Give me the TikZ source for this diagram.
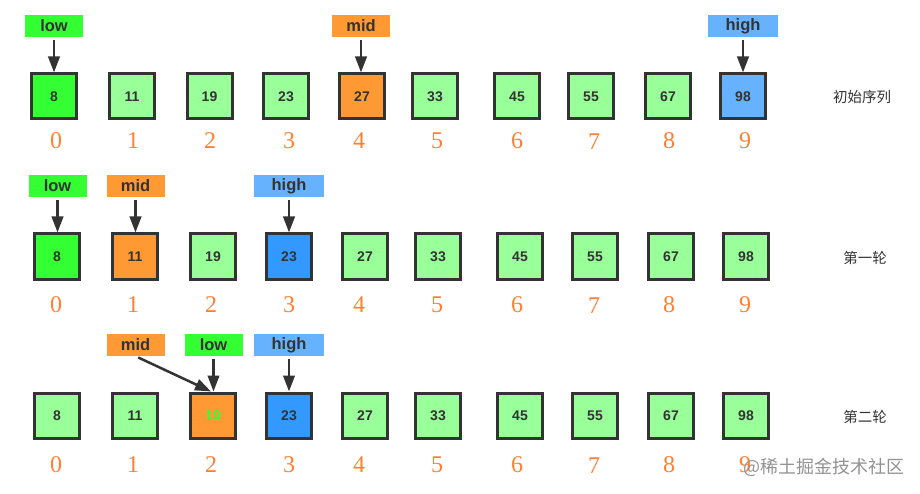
\documentclass[tikz,border=0pt]{standalone}
\usepackage{fontspec}
\usetikzlibrary{arrows.meta}
\newfontfamily\numfont{Liberation Sans}
\newfontfamily\idxfont{Liberation Serif}
\newfontfamily\cjkfont{Noto Sans CJK SC}
\definecolor{cellgreen}{HTML}{99FF99}
\definecolor{lowgreen}{HTML}{33FF33}
\definecolor{midorange}{HTML}{FF9933}
\definecolor{highblue}{HTML}{66B2FF}
\definecolor{boxblue}{HTML}{3399FF}
\definecolor{edgegray}{HTML}{333333}
\definecolor{idxorange}{HTML}{FF8030}
\definecolor{markgray}{HTML}{929292}
\begin{document}
\begin{tikzpicture}[x=1pt, y=-1pt,
  cell/.style={rectangle, draw=edgegray, line width=3pt, fill=cellgreen, minimum size=45pt, inner sep=0pt, text=edgegray, font=\numfont\bfseries\fontsize{14}{14}\selectfont},
  ptr/.style={rectangle, minimum height=22pt, minimum width=58pt, inner sep=0pt, text=edgegray, font=\numfont\bfseries\fontsize{16.5}{16.5}\selectfont},
  idx/.style={text=idxorange, inner sep=0pt, font=\idxfont\fontsize{24}{24}\selectfont},
  roundlbl/.style={text=edgegray, font=\cjkfont\fontsize{14.5}{14.5}\selectfont},
  ptrarrow/.style={draw=edgegray, line width=2.5pt, -{Triangle[width=11.5pt,length=16pt]}, shorten <=3pt}]
\useasboundingbox (0,0) rectangle (920,494);
\node[cell, fill=lowgreen] (a0) at (54,96.5){8};
\node[cell] (a1) at (132,96.5){11};
\node[cell] (a2) at (209.5,96.5){19};
\node[cell] (a3) at (286,96.5){23};
\node[cell, fill=midorange] (a4) at (362,96.5){27};
\node[cell] (a5) at (435,96.5){33};
\node[cell] (a6) at (517,96.5){45};
\node[cell] (a7) at (591,96.5){55};
\node[cell] (a8) at (668,96.5){67};
\node[cell, fill=highblue] (a9) at (743,96.5){98};
\node[ptr, fill=lowgreen] (lowa) at (54,26){low};
\node[ptr, fill=midorange] (mida) at (361,26){mid};
\node[ptr, fill=highblue, minimum width=70pt] (higha) at (743,26){high};
\draw[ptrarrow] (lowa.south) -- (a0.north);
\draw[ptrarrow] (mida.south) -- (mida.south |- a4.north);
\draw[ptrarrow] (higha.south) -- (a9.north);
\node[roundlbl] (rounda) at (862,97){初始序列};
\node[idx] (ia0) at (56,141){0};
\node[idx] (ia1) at (133,141){1};
\node[idx] (ia2) at (210,141){2};
\node[idx] (ia3) at (289,141){3};
\node[idx] (ia4) at (359,141){4};
\node[idx] (ia5) at (437,141){5};
\node[idx] (ia6) at (517,141){6};
\node[idx] (ia7) at (594,142){7};
\node[idx] (ia8) at (669,141){8};
\node[idx] (ia9) at (745,141){9};
\node[cell, fill=lowgreen] (b0) at (57,256.5){8};
\node[cell, fill=midorange] (b1) at (135,256.5){11};
\node[cell] (b2) at (213,256.5){19};
\node[cell, fill=boxblue] (b3) at (289,256.5){23};
\node[cell] (b4) at (365,256.5){27};
\node[cell] (b5) at (438,256.5){33};
\node[cell] (b6) at (520,256.5){45};
\node[cell] (b7) at (595,256.5){55};
\node[cell] (b8) at (671,256.5){67};
\node[cell] (b9) at (746,256.5){98};
\node[ptr, fill=lowgreen] (lowb) at (57.5,186){low};
\node[ptr, fill=midorange] (midb) at (135.5,186){mid};
\node[ptr, fill=highblue, minimum width=70pt] (highb) at (289,186){high};
\draw[ptrarrow] (lowb.south) -- (lowb.south |- b0.north);
\draw[ptrarrow] (midb.south) -- (midb.south |- b1.north);
\draw[ptrarrow] (highb.south) -- (b3.north);
\node[roundlbl] (roundb) at (865,258){第一轮};
\node[idx] (ib0) at (56,304.5){0};
\node[idx] (ib1) at (133,304.5){1};
\node[idx] (ib2) at (211,304.5){2};
\node[idx] (ib3) at (289,304.5){3};
\node[idx] (ib4) at (359,304.5){4};
\node[idx] (ib5) at (437,304.5){5};
\node[idx] (ib6) at (517,304.5){6};
\node[idx] (ib7) at (594,305.5){7};
\node[idx] (ib8) at (669,304.5){8};
\node[idx] (ib9) at (745,304.5){9};
\node[cell] (c0) at (57,415.5){8};
\node[cell] (c1) at (135,415.5){11};
\node[cell, fill=midorange, text=lowgreen] (c2) at (213,415.5){19};
\node[cell, fill=boxblue] (c3) at (289,415.5){23};
\node[cell] (c4) at (365,415.5){27};
\node[cell] (c5) at (438,415.5){33};
\node[cell] (c6) at (520,415.5){45};
\node[cell] (c7) at (595,415.5){55};
\node[cell] (c8) at (671,415.5){67};
\node[cell] (c9) at (746,415.5){98};
\node[ptr, fill=midorange] (midc) at (135.5,345){mid};
\node[ptr, fill=lowgreen] (lowc) at (213.5,345){low};
\node[ptr, fill=highblue, minimum width=70pt] (highc) at (289,345){high};
\draw[ptrarrow] (lowc.south) -- (lowc.south |- c2.north);
\draw[ptrarrow] (highc.south) -- (c3.north);
\draw[ptrarrow] (midc.south) -- ([xshift=-2pt]c2.north);
\node[roundlbl] (roundc) at (865,417){第二轮};
\node[idx] (ic0) at (56,465){0};
\node[idx] (ic1) at (133,465){1};
\node[idx] (ic2) at (211,465){2};
\node[idx] (ic3) at (289,465){3};
\node[idx] (ic4) at (359,465){4};
\node[idx] (ic5) at (437,465){5};
\node[idx] (ic6) at (517,465){6};
\node[idx] (ic7) at (594,466){7};
\node[idx] (ic8) at (669,465){8};
\node[idx] (ic9) at (745,465){9};
\node[anchor=west, inner sep=0pt, text=markgray, font=\cjkfont\fontsize{18}{18}\selectfont] (mark) at (743,467){@稀土掘金技术社区};
\end{tikzpicture}
\end{document}
